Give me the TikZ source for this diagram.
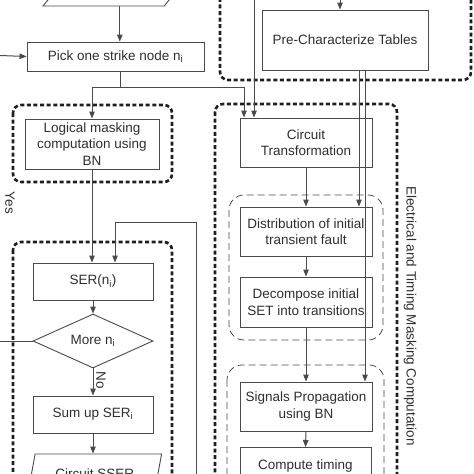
\documentclass[tikz,border=0pt]{standalone}
\usepackage{fontspec}
\setmainfont{Liberation Sans}
\usetikzlibrary{shapes.geometric,arrows.meta,calc}
\definecolor{bord}{HTML}{4A4A4A}
\definecolor{txt}{HTML}{2E2E2E}
\definecolor{grp}{HTML}{1E1E1E}
\begin{document}
\begin{tikzpicture}[x=1pt,y=-1pt,
  every node/.style={font=\fontsize{13.5}{16.5}\selectfont, text=txt},
  box/.style={draw=bord, line width=0.9pt, rectangle, align=center, inner sep=2pt},
  para/.style={draw=bord, line width=0.9pt, trapezium, trapezium left angle=70, trapezium right angle=110, trapezium stretches=true, inner sep=2pt},
  decide/.style={draw=bord, line width=0.9pt, diamond, shape aspect=2.2, inner sep=0pt},
  conn/.style={draw=bord, line width=1pt, -{Triangle[length=7pt,width=5.5pt]}},
  wire/.style={draw=bord, line width=1pt},
  group/.style={draw=grp, line width=2.6pt, dash pattern=on 4pt off 2.6pt, rounded corners=8pt},
  subgroup/.style={draw=bord, line width=0.8pt, dash pattern=on 7pt off 4pt, rounded corners=15pt}
]
\useasboundingbox (0,0) rectangle (474,474);

% groups
\draw[group] (220,-30) rectangle (471,80);
\draw[group] (13,105) rectangle (172,182);
\draw[group] (13,242) rectangle (172,520);
\draw[group] (215,104) rectangle (397,520);
\draw[subgroup] (229,195) rectangle (383,340);
\draw[subgroup] (227,365) rectangle (384,520);

% nodes
\node[para, minimum width=153.6, minimum height=40] (Input) at (119.8,-14) {};
\node[box, minimum width=177, minimum height=29] (Pick) at (115.5,56.5) {Pick one strike node n\textsubscript{i}};
\node[box, minimum width=166, minimum height=60] (Pre) at (345,40) {Pre-Characterize Tables};
\node[box, minimum width=134, minimum height=50] (Logic) at (92,144) {Logical masking\\computation using\\BN};
\node[box, minimum width=132, minimum height=49] (CircT) at (306,142.5) {Circuit\\Transformation};
\node[box, minimum width=132, minimum height=49] (Dist) at (306,231.5) {Distribution of initial\\transient fault};
\node[box, minimum width=132, minimum height=50] (Decomp) at (306,302) {Decompose initial\\SET into transitions};
\node[box, minimum width=132, minimum height=49] (Sig) at (306,406.5) {Signals Propagation\\using BN};
\node[box, minimum width=131, minimum height=50, anchor=north] (Comp) at (305.5,447) {Compute timing\\\mbox{}};
\node[box, minimum width=120, minimum height=37] (SER) at (93,281.5) {SER(n\textsubscript{i})};
\node[decide, minimum width=120, minimum height=54] (More) at (93,341) {More n\textsubscript{i}};
\node[box, minimum width=120, minimum height=37] (Sum) at (93,414.5) {Sum up SER\textsubscript{i}};
\node[para, minimum width=134.6, minimum height=40] (SSER) at (94.7,474) {Circuit SSER};

% labels
\node[rotate=-90] (yes) at (10,203) {Yes};
\node[rotate=-90] (no) at (101,380) {No};
\node[rotate=-90] (elab) at (410,316) {Electrical and Timing Masking Computation};

% coordinates
\coordinate (J) at (120,87);
\coordinate (cA) at (244,87);
\coordinate (topA) at (254,0);
\coordinate (topB) at (340,0);
\coordinate (p1) at (359,70);
\coordinate (p2) at (365,70);
\coordinate (L1) at (196,474);
\coordinate (L2) at (115,222);
\coordinate (Lin) at (0,55.5);
\coordinate (Lout) at (0,341);

% connectors
\draw[conn] (Input.south) -- (Input.south |- Pick.north);
\draw[conn] (Lin) -- (Pick.west);
\draw[wire] (Pick.south -| J) -- (J);
\draw[conn] (J) -| (Logic.north);
\draw[conn] (J) -- (cA) -- (cA |- CircT.north);
\draw[conn] (topA) -- (topA |- CircT.north);
\draw[conn] (topB) -- (topB |- Pre.north);
\draw[conn] (p1) -- (p1 |- Dist.north);
\draw[conn] (p2) -- (p2 |- Sig.north);
\draw[conn] (CircT.south) -- (Dist.north);
\draw[conn] (Dist.south) -- (Decomp.north);
\draw[conn] (Decomp.south) -- (Sig.north);
\draw[conn] (Sig.south) -- (Comp.north);
\draw[conn] (Logic.south) -- (Logic.south |- SER.north);
\draw[conn] (L1) |- (L2) -- (L2 |- SER.north);
\draw[conn] (SER.south) -- (More.north);
\draw[conn] (More.south) -- (Sum.north);
\draw[conn] (Sum.south) -- (Sum.south |- SSER.north);
\draw[wire] (More.west) -- (Lout);
\end{tikzpicture}
\end{document}
